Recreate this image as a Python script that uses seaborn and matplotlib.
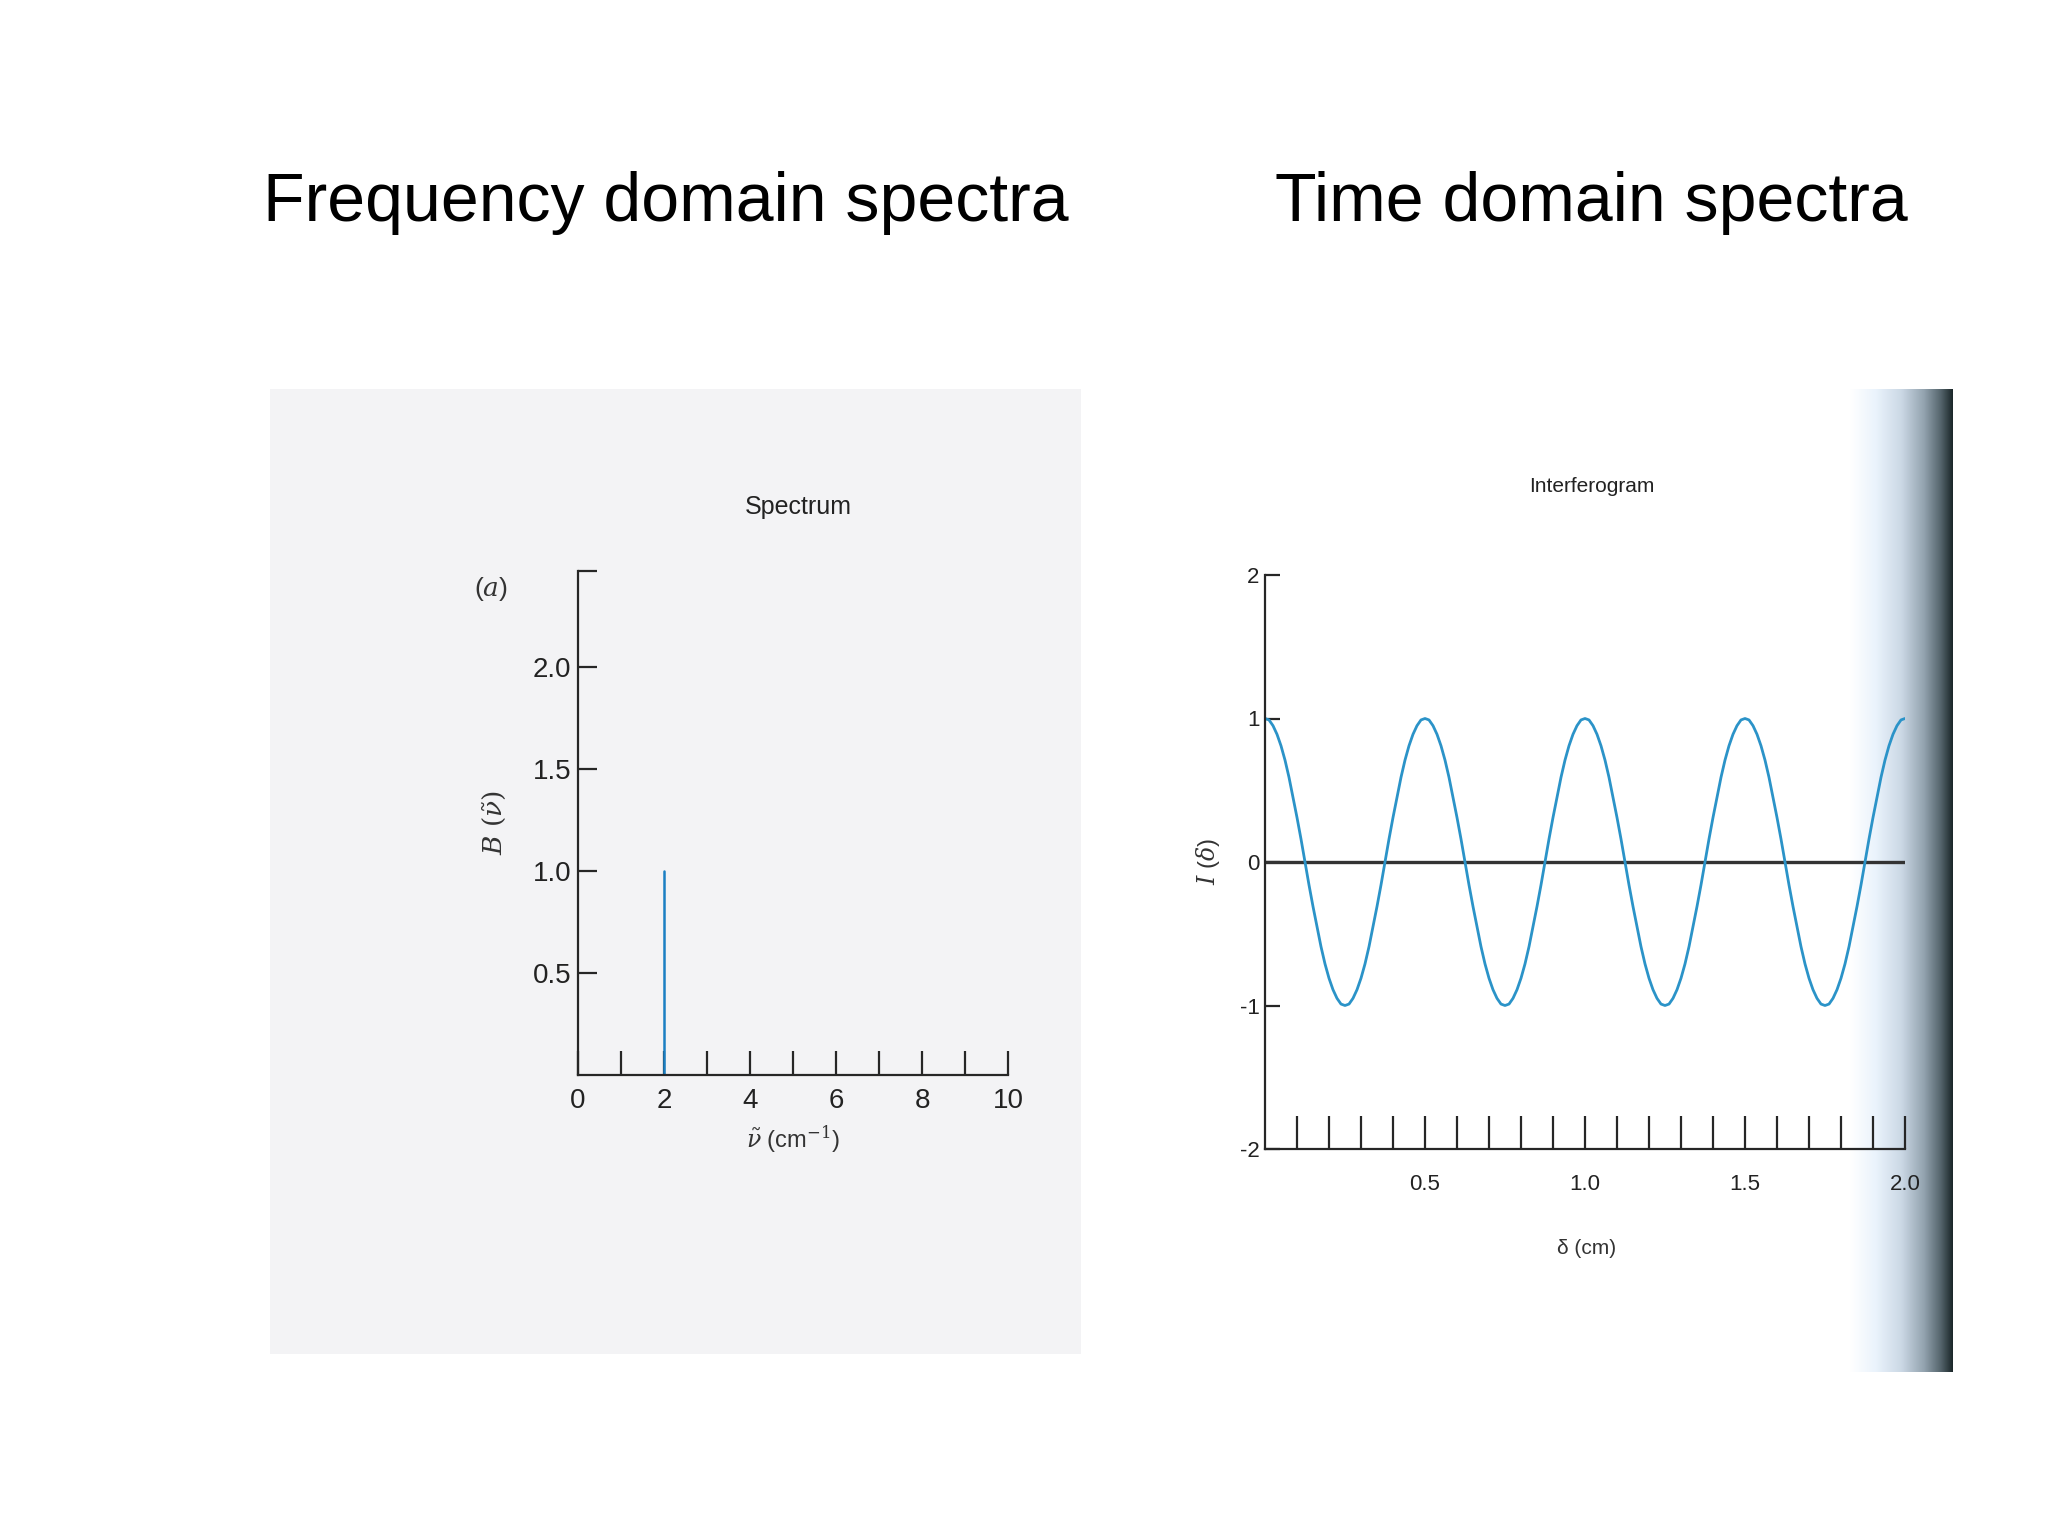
import seaborn as sns
import numpy as np
import matplotlib.pyplot as plt
from matplotlib import font_manager
from matplotlib.colors import LinearSegmentedColormap

# --- data ---
# frequency domain: a single line at 2 cm-1
spec_wavenumber = [2.0, 2.0]
spec_intensity = [0.0, 1.0]
spec_xticks = [0, 2, 4, 6, 8, 10]
spec_xminor = [1, 3, 5, 7, 9]
spec_yticks = [0.5, 1.0, 1.5, 2.0]

# time domain: interferogram sampled every 0.0125 cm
interf_delta = [round(0.0125 * i, 4) for i in range(161)]
interf_intensity = [
    1.00, 0.99, 0.95, 0.89, 0.81, 0.71, 0.59, 0.45, 0.31, 0.16,
    0.00, -0.16, -0.31, -0.45, -0.59, -0.71, -0.81, -0.89, -0.95, -0.99,
    -1.00, -0.99, -0.95, -0.89, -0.81, -0.71, -0.59, -0.45, -0.31, -0.16,
    0.00, 0.16, 0.31, 0.45, 0.59, 0.71, 0.81, 0.89, 0.95, 0.99,
    1.00, 0.99, 0.95, 0.89, 0.81, 0.71, 0.59, 0.45, 0.31, 0.16,
    0.00, -0.16, -0.31, -0.45, -0.59, -0.71, -0.81, -0.89, -0.95, -0.99,
    -1.00, -0.99, -0.95, -0.89, -0.81, -0.71, -0.59, -0.45, -0.31, -0.16,
    0.00, 0.16, 0.31, 0.45, 0.59, 0.71, 0.81, 0.89, 0.95, 0.99,
    1.00, 0.99, 0.95, 0.89, 0.81, 0.71, 0.59, 0.45, 0.31, 0.16,
    0.00, -0.16, -0.31, -0.45, -0.59, -0.71, -0.81, -0.89, -0.95, -0.99,
    -1.00, -0.99, -0.95, -0.89, -0.81, -0.71, -0.59, -0.45, -0.31, -0.16,
    0.00, 0.16, 0.31, 0.45, 0.59, 0.71, 0.81, 0.89, 0.95, 0.99,
    1.00, 0.99, 0.95, 0.89, 0.81, 0.71, 0.59, 0.45, 0.31, 0.16,
    0.00, -0.16, -0.31, -0.45, -0.59, -0.71, -0.81, -0.89, -0.95, -0.99,
    -1.00, -0.99, -0.95, -0.89, -0.81, -0.71, -0.59, -0.45, -0.31, -0.16,
    0.00, 0.16, 0.31, 0.45, 0.59, 0.71, 0.81, 0.89, 0.95, 0.99,
    1.00,
]
baseline_delta = [0.0, 2.01]
baseline_intensity = [0.0, 0.0]
interf_xticks = [0.5, 1.0, 1.5, 2.0]
interf_xminor = [round(0.1 * i, 1) for i in range(1, 20)]
interf_yticks = [-2, -1, 0, 1, 2]

W, H = 2048, 1536


def fx(x):
    return x / W


def fy(y):
    return 1 - y / H


def main():
    sns.set_theme(style="white")
    names = {f.name for f in font_manager.fontManager.ttflist}
    narrow = "Liberation Sans Narrow" if "Liberation Sans Narrow" in names else "Liberation Sans"
    plt.rcParams['font.family'] = ['Liberation Sans', 'DejaVu Sans']
    plt.rcParams['mathtext.fontset'] = 'dejavuserif'

    fig = plt.figure(figsize=(20.48, 15.36), dpi=100)
    fig.patch.set_facecolor('white')

    # slide titles
    fig.text(fx(666), fy(203), "Frequency domain spectra", ha='center', va='center',
             fontsize=49, color='black')
    fig.text(fx(1591), fy(203), "Time domain spectra", ha='center', va='center',
             fontsize=49, color='black')

    # scanned page backgrounds
    bg = fig.add_axes([fx(270), fy(1354), fx(1081) - fx(270), (1354 - 389) / H], zorder=0)
    bg.set_facecolor('#f3f3f5')
    bg.set_xticks([])
    bg.set_yticks([])
    for s in bg.spines.values():
        s.set_visible(False)

    spine_cmap = LinearSegmentedColormap.from_list(
        "spine", [(0.0, '#ffffff'), (0.25, '#eaf3fc'), (0.5, '#cbd8e5'),
                  (0.72, '#93a3af'), (0.88, '#56666e'), (1.0, '#1b2729')])
    grad = fig.add_axes([fx(1850), fy(1372), fx(1953) - fx(1850), (1372 - 389) / H], zorder=0)
    grad.imshow(np.linspace(0, 1, 256)[None, :], cmap=spine_cmap, aspect='auto')
    grad.axis('off')

    axis_color = '#262626'

    # ---- spectrum ----
    ax1 = fig.add_axes([fx(578), fy(1075), fx(1008) - fx(578), (1075 - 571) / H], zorder=2)
    ax1.patch.set_alpha(0)
    sns.lineplot(x=spec_wavenumber, y=spec_intensity, ax=ax1, color='#1b7fc3',
                 linewidth=1.8, estimator=None, sort=False)
    ax1.set_xlim(0, 10)
    ax1.set_ylim(0, 2.47)
    for side in ['top', 'right']:
        ax1.spines[side].set_visible(False)
    for side in ['left', 'bottom']:
        ax1.spines[side].set_color(axis_color)
        ax1.spines[side].set_linewidth(1.6)
    ax1.set_xticks(spec_xticks)
    ax1.set_xticklabels([str(t) for t in spec_xticks])
    ax1.set_xticks(spec_xminor, minor=True)
    ax1.set_yticks(spec_yticks)
    ax1.set_yticklabels([f"{t:.1f}" for t in spec_yticks])
    ax1.set_yticks([2.47], minor=True)
    ax1.tick_params(axis='x', which='both', bottom=True, direction='in', length=17,
                    width=1.6, color=axis_color, pad=9, labelsize=20)
    ax1.tick_params(axis='y', which='both', left=True, direction='in', length=14,
                    width=1.6, color=axis_color, pad=5, labelsize=20)
    for lab in ax1.get_xticklabels() + ax1.get_yticklabels():
        lab.set_family(narrow)
        lab.set_color('#222222')

    fig.text(fx(798), fy(507), "Spectrum", ha='center', va='center', fontsize=18,
             family=narrow, color='#222222')
    fig.text(fx(491), fy(589), r"($a$)", ha='center', va='center', fontsize=19,
             family=narrow, color='#333333')
    fig.text(fx(494), fy(823), r"$B\ (\tilde{\nu})$", ha='center', va='center',
             fontsize=19, rotation=90, color='#333333')
    fig.text(fx(793), fy(1139), r"$\tilde{\nu}$ (cm$^{-1}$)", ha='center', va='center',
             fontsize=17, family=narrow, color='#333333')

    # ---- interferogram ----
    ax2 = fig.add_axes([fx(1265), fy(1149), fx(1905) - fx(1265), (1149 - 575) / H], zorder=2)
    ax2.patch.set_alpha(0)
    sns.lineplot(x=baseline_delta, y=baseline_intensity, ax=ax2, color='#333333',
                 linewidth=2.4, estimator=None, sort=False)
    sns.lineplot(x=interf_delta, y=interf_intensity, ax=ax2, color='#2b93c8',
                 linewidth=2.0, estimator=None, sort=False)
    ax2.set_xlim(0, 2.0)
    ax2.set_ylim(-2, 2)
    for side in ['top', 'right']:
        ax2.spines[side].set_visible(False)
    for side in ['left', 'bottom']:
        ax2.spines[side].set_color(axis_color)
        ax2.spines[side].set_linewidth(1.6)
    ax2.set_xticks(interf_xticks)
    ax2.set_xticklabels([f"{t:.1f}" for t in interf_xticks])
    ax2.set_xticks(interf_xminor, minor=True)
    ax2.set_yticks(interf_yticks)
    ax2.set_yticklabels([str(t) for t in interf_yticks])
    ax2.tick_params(axis='x', which='both', bottom=True, direction='in', length=24,
                    width=1.6, color=axis_color, pad=18, labelsize=16)
    ax2.tick_params(axis='y', which='both', left=True, direction='in', length=11,
                    width=1.6, color=axis_color, pad=4, labelsize=16)
    for lab in ax2.get_xticklabels() + ax2.get_yticklabels():
        lab.set_family(narrow)
        lab.set_color('#222222')

    fig.text(fx(1592), fy(487), "Interferogram", ha='center', va='center', fontsize=15,
             family=narrow, color='#222222')
    fig.text(fx(1208), fy(862), r"$I$ ($\delta$)", ha='center', va='center',
             fontsize=17, rotation=90, color='#333333')
    fig.text(fx(1587), fy(1249), "δ (cm)", ha='center', va='center', fontsize=15,
             family=narrow, color='#333333')

    fig.savefig("out.png", dpi=100)
    plt.close(fig)


if __name__ == "__main__":
    main()
